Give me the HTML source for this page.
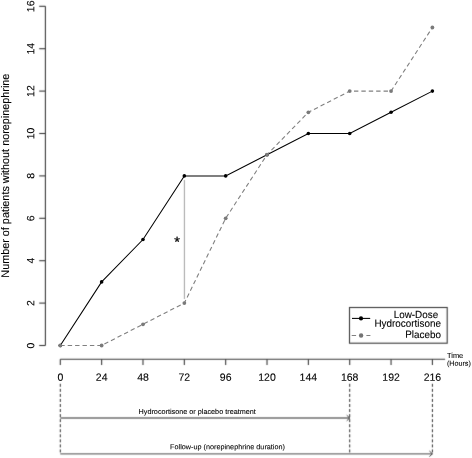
<!DOCTYPE html><html><head><meta charset="utf-8"><style>html,body{margin:0;padding:0;background:#fff;}svg{display:block;}
text{font-family:"Liberation Sans",Arial,Helvetica,sans-serif;fill:#000;}
text{stroke:#000;stroke-width:0.1px;} text.s{stroke-width:0.08px;}
</style></head><body>
<svg width="472" height="458" viewBox="0 0 472 458">
<rect width="472" height="458" fill="#fff"/>
<defs><filter id="bl" x="0" y="0" width="472" height="458" filterUnits="userSpaceOnUse" color-interpolation-filters="sRGB"><feConvolveMatrix order="3" kernelMatrix="0.01145 0.08410 0.01145 0.08410 0.61780 0.08410 0.01145 0.08410 0.01145" divisor="1" edgeMode="none" preserveAlpha="false"/></filter></defs>
<g id="lines" filter="url(#bl)">
<g stroke="#3a3a3a" stroke-width="1.1" fill="none">
<line x1="45.4" y1="6.30" x2="45.4" y2="345.50"/>
<line x1="39.2" y1="345.50" x2="45.4" y2="345.50"/>
<line x1="39.2" y1="303.10" x2="45.4" y2="303.10"/>
<line x1="39.2" y1="260.70" x2="45.4" y2="260.70"/>
<line x1="39.2" y1="218.30" x2="45.4" y2="218.30"/>
<line x1="39.2" y1="175.90" x2="45.4" y2="175.90"/>
<line x1="39.2" y1="133.50" x2="45.4" y2="133.50"/>
<line x1="39.2" y1="91.10" x2="45.4" y2="91.10"/>
<line x1="39.2" y1="48.70" x2="45.4" y2="48.70"/>
<line x1="39.2" y1="6.30" x2="45.4" y2="6.30"/>
</g>
<g stroke="#3a3a3a" stroke-width="1.1" fill="none">
<line x1="60.30" y1="359.3" x2="445.1" y2="359.3"/>
<line x1="60.30" y1="359.3" x2="60.30" y2="364.9"/>
<line x1="101.64" y1="359.3" x2="101.64" y2="364.9"/>
<line x1="142.99" y1="359.3" x2="142.99" y2="364.9"/>
<line x1="184.33" y1="359.3" x2="184.33" y2="364.9"/>
<line x1="225.68" y1="359.3" x2="225.68" y2="364.9"/>
<line x1="267.02" y1="359.3" x2="267.02" y2="364.9"/>
<line x1="308.37" y1="359.3" x2="308.37" y2="364.9"/>
<line x1="349.71" y1="359.3" x2="349.71" y2="364.9"/>
<line x1="391.06" y1="359.3" x2="391.06" y2="364.9"/>
<line x1="432.40" y1="359.3" x2="432.40" y2="364.9"/>
</g>
<line x1="184.43" y1="179.9" x2="184.43" y2="298.9" stroke="#a8a8a8" stroke-width="1.1"/>
<rect x="349.5" y="307.5" width="97.7" height="35.7" fill="#fff" stroke="#3a3a3a" stroke-width="1.1"/>
<g stroke="#303030" stroke-width="1" fill="none" stroke-dasharray="3.0 2.05">
<line x1="60.30" y1="383.8" x2="60.30" y2="454"/>
<line x1="349.71" y1="383.8" x2="349.71" y2="454"/>
<line x1="432.40" y1="383.8" x2="432.40" y2="454"/>
</g>
<g stroke="#707070" stroke-width="1.3" fill="none">
<line x1="60.30" y1="418" x2="349.71" y2="418"/>
<line x1="60.30" y1="453.8" x2="432.40" y2="453.8"/>
</g>
<g stroke="#1a1a1a" stroke-width="0.8" fill="none">
<polyline points="346.71,415.2 349.71,418 346.71,420.8"/>
<polyline points="429.40,451 432.40,453.8 429.40,456.6"/>
</g>
</g>
<polyline points="60.30,345.50 101.64,281.90 142.99,239.50 184.33,175.90 225.68,175.90 267.02,154.70 308.37,133.50 349.71,133.50 391.06,112.30 432.40,91.10" fill="none" stroke="#000" stroke-width="1.05"/>
<circle cx="60.30" cy="345.50" r="1.8" fill="#000"/>
<circle cx="101.64" cy="281.90" r="1.8" fill="#000"/>
<circle cx="142.99" cy="239.50" r="1.8" fill="#000"/>
<circle cx="184.33" cy="175.90" r="1.8" fill="#000"/>
<circle cx="225.68" cy="175.90" r="1.8" fill="#000"/>
<circle cx="267.02" cy="154.70" r="1.8" fill="#000"/>
<circle cx="308.37" cy="133.50" r="1.8" fill="#000"/>
<circle cx="349.71" cy="133.50" r="1.8" fill="#000"/>
<circle cx="391.06" cy="112.30" r="1.8" fill="#000"/>
<circle cx="432.40" cy="91.10" r="1.8" fill="#000"/>
<polyline points="60.30,345.50 101.64,345.50 142.99,324.30 184.33,303.10 225.68,218.30 267.02,154.70 308.37,112.30 349.71,91.10 391.06,91.10 432.40,27.50" fill="none" stroke="#808080" stroke-width="1.1" stroke-dasharray="4.4 3"/>
<circle cx="60.30" cy="345.50" r="1.9" fill="#7a7a7a"/>
<circle cx="101.64" cy="345.50" r="1.9" fill="#7a7a7a"/>
<circle cx="142.99" cy="324.30" r="1.9" fill="#7a7a7a"/>
<circle cx="184.33" cy="303.10" r="1.9" fill="#7a7a7a"/>
<circle cx="225.68" cy="218.30" r="1.9" fill="#7a7a7a"/>
<circle cx="267.02" cy="154.70" r="1.9" fill="#7a7a7a"/>
<circle cx="308.37" cy="112.30" r="1.9" fill="#7a7a7a"/>
<circle cx="349.71" cy="91.10" r="1.9" fill="#7a7a7a"/>
<circle cx="391.06" cy="91.10" r="1.9" fill="#7a7a7a"/>
<circle cx="432.40" cy="27.50" r="1.9" fill="#7a7a7a"/>
<line x1="352" y1="318.4" x2="370.2" y2="318.4" stroke="#000" stroke-width="1.05"/><circle cx="361" cy="318.4" r="2.1" fill="#000"/>
<line x1="351.7" y1="335.5" x2="370.4" y2="335.5" stroke="#808080" stroke-width="1.1" stroke-dasharray="4.4 10.3"/><circle cx="361.1" cy="335.5" r="2.2" fill="#747474"/>
<g id="texts">
<text font-size="10.5" text-anchor="middle" transform="translate(34.2 345.50) rotate(-90.05)">0</text>
<text font-size="10.5" text-anchor="middle" transform="translate(34.2 303.10) rotate(-90.05)">2</text>
<text font-size="10.5" text-anchor="middle" transform="translate(34.2 260.70) rotate(-90.05)">4</text>
<text font-size="10.5" text-anchor="middle" transform="translate(34.2 218.30) rotate(-90.05)">6</text>
<text font-size="10.5" text-anchor="middle" transform="translate(34.2 175.90) rotate(-90.05)">8</text>
<text font-size="10.5" text-anchor="middle" transform="translate(34.2 133.50) rotate(-90.05)">10</text>
<text font-size="10.5" text-anchor="middle" transform="translate(34.2 91.10) rotate(-90.05)">12</text>
<text font-size="10.5" text-anchor="middle" transform="translate(34.2 48.70) rotate(-90.05)">14</text>
<text font-size="10.5" text-anchor="middle" transform="translate(34.2 6.30) rotate(-90.05)">16</text>
<text font-size="10.84" text-anchor="middle" transform="translate(9.0 175.65) rotate(-90.05) scale(1 1.02)">Number of patients without norepinephrine</text>
<text font-size="10.5" text-anchor="middle" transform="translate(60.30 380.8) skewY(0.05)">0</text>
<text font-size="10.5" text-anchor="middle" transform="translate(101.64 380.8) skewY(0.05)">24</text>
<text font-size="10.5" text-anchor="middle" transform="translate(142.99 380.8) skewY(0.05)">48</text>
<text font-size="10.5" text-anchor="middle" transform="translate(184.33 380.8) skewY(0.05)">72</text>
<text font-size="10.5" text-anchor="middle" transform="translate(225.68 380.8) skewY(0.05)">96</text>
<text font-size="10.5" text-anchor="middle" transform="translate(267.02 380.8) skewY(0.05)">120</text>
<text font-size="10.5" text-anchor="middle" transform="translate(308.37 380.8) skewY(0.05)">144</text>
<text font-size="10.5" text-anchor="middle" transform="translate(349.71 380.8) skewY(0.05)">168</text>
<text font-size="10.5" text-anchor="middle" transform="translate(391.06 380.8) skewY(0.05)">192</text>
<text font-size="10.5" text-anchor="middle" transform="translate(432.40 380.8) skewY(0.05)">216</text>
<text class="s" font-size="7.4" transform="translate(447.0 357.9) skewY(0.05)">Time</text><text class="s" font-size="7.2" transform="translate(446.9 365.7) skewY(0.05)">(Hours)</text>
<text font-size="14.5" text-anchor="middle" style="stroke-width:0.3px" transform="translate(177.05 246.7) skewY(0.05)">*</text>
<text font-size="9.9" text-anchor="end" xml:space="preserve" style="white-space:pre" transform="translate(440.9 318) scale(1 1.04) skewY(0.05)">Low-Dose </text>
<text font-size="9.9" text-anchor="end" transform="translate(440.9 326.8) scale(1 1.04) skewY(0.05)">Hydrocortisone</text>
<text font-size="9.9" text-anchor="end" transform="translate(440.9 337.9) scale(1 1.04) skewY(0.05)">Placebo</text>
<text class="s" font-size="7.25" text-anchor="middle" transform="translate(197.2 414.0) skewY(0.05)">Hydrocortisone or placebo treatment</text>
<text class="s" font-size="7.25" text-anchor="middle" transform="translate(227.5 449.3) skewY(0.05)">Follow-up (norepinephrine duration)</text>
</g>
</svg></body></html>
